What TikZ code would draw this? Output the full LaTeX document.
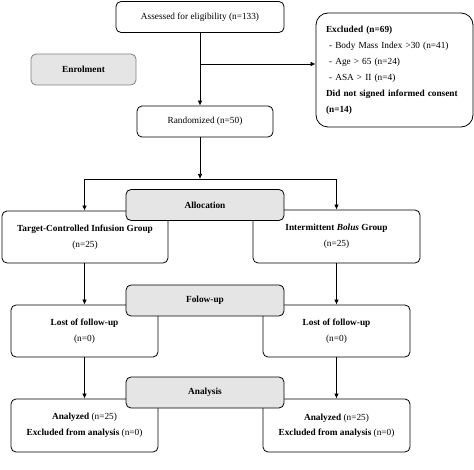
\documentclass[tikz,border=0pt]{standalone}
\usepackage{fontspec}
\setmainfont{Liberation Serif}
\usetikzlibrary{arrows.meta,positioning,calc}

\begin{document}
\begin{tikzpicture}[x=1pt, y=-1pt, font=\fontsize{9.3}{16}\selectfont,
        box/.style={draw, rounded corners=5pt, align=center, inner sep=0pt, line width=0.8pt},
        stage/.style={box, fill=gray!20, font=\fontsize{9.3}{16}\selectfont\bfseries, minimum width=158pt, minimum height=31pt},
        group/.style={box, fill=white, minimum width=147pt, minimum height=52pt},
        arr/.style={-{Latex[length=5pt,width=4.5pt]}, line width=0.7pt}]
                \useasboundingbox (0,0) rectangle (474,470);
                \def\lx{84.5}
                \def\rx{336.5}

                \node [box, minimum width=168pt, minimum height=31pt] (assess) at (200,17) {Assessed for eligibility (n=133)};

                \node [stage, minimum width=105pt, draw=gray] (enrol) at (83.5,69.5) {Enrolment};

                \node [box, rounded corners=12pt, minimum width=157pt, minimum height=114pt, align=left, text width=137pt] (excl) at (394.5,70)
                    {\textbf{Excluded (n=69)}\\
                     \ - Body Mass Index >30 (n=41)\\
                     \ - Age > 65 (n=24)\\
                     \ - ASA > II (n=4)\\
                     \textbf{Did not signed informed consent}\\
                     \textbf{(n=14)}};

                \node [box, minimum width=136pt, minimum height=31pt] (rand) at (205,121.5) {Randomized (n=50)};

                % the two arms
                \node [group, minimum width=166pt] (tci) at (85,237) {\textbf{Target-Controlled Infusion Group}\\(n=25)};
                \node [group, minimum width=167pt, minimum height=53pt] (ib) at (\rx,236.5) {\textbf{Intermittent \textit{Bolus} Group}\\(n=25)};
                \node [stage] (alloc) at (205,205) {Allocation};

                \node [group] (lostl) at (\lx,331) {\textbf{Lost of follow-up}\\(n=0)};
                \node [group] (lostr) at (\rx,331) {\textbf{Lost of follow-up}\\(n=0)};
                \node [stage] (follow) at (205,300.5) {Folow-up};

                \node [group, minimum height=53pt] (anl) at (\lx,425.5) {\textbf{Analyzed} (n=25)\\\textbf{Excluded from analysis} (n=0)};
                \node [group, minimum height=53pt] (anr) at (\rx,425.5) {\textbf{Analyzed} (n=25)\\[-1pt]\textbf{Excluded from analysis} (n=0)};
                \node [stage] (anal) at (205,392.5) {Analysis};

                % connectors
                \coordinate (split) at (200,64);
                \coordinate (fork) at (200,179);
                \draw [arr] (200,0 |- assess.south) to (200,0 |- rand.north);
                \draw [arr] (split) to (split -| excl.west);
                \draw [arr] (200,0 |- rand.south) to (fork);
                \draw [line width=0.7pt] (fork -| \lx,0) to (fork -| \rx,0);
                \draw [arr] (fork -| \lx,0) to (\lx,0 |- tci.north);
                \draw [arr] (fork -| \rx,0) to (\rx,0 |- ib.north);
                \draw [arr] (\lx,0 |- tci.south) to (lostl);
                \draw [arr] (\rx,0 |- ib.south) to (lostr);
                \draw [arr] (lostl) to (anl);
                \draw [arr] (lostr) to (anr);

\end{tikzpicture}
\end{document}
